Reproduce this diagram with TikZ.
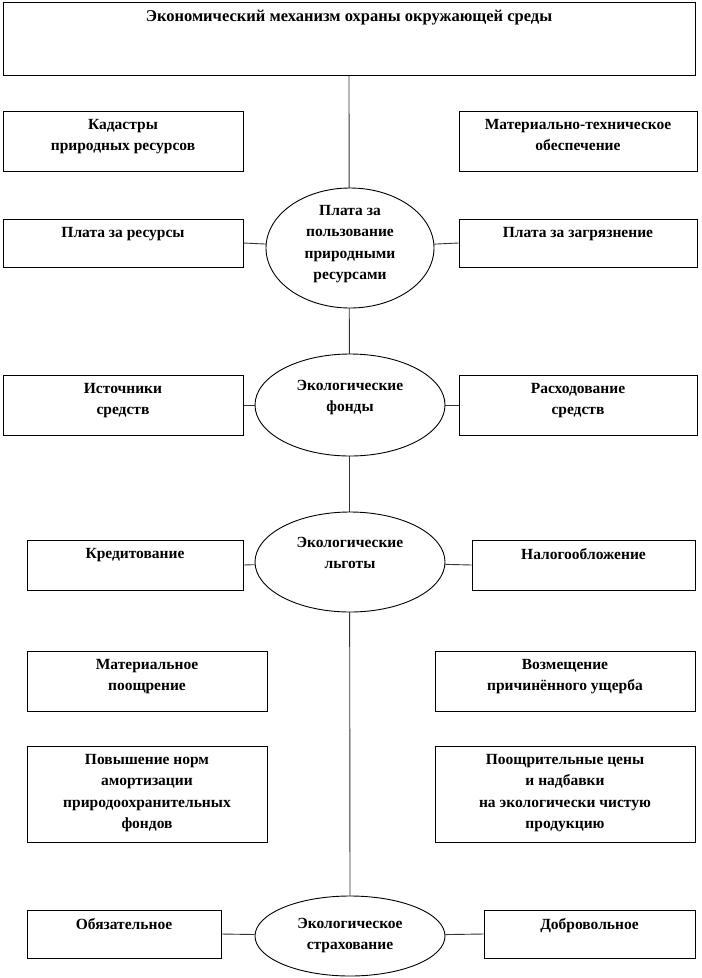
\documentclass[tikz,border=0pt]{standalone}
\usepackage{fontspec}
\setmainfont{Liberation Serif}
\usetikzlibrary{shapes.geometric,backgrounds}
\begin{document}
\begin{tikzpicture}[x=1pt,y=-1pt,
  bx/.style={draw,fill=white,line width=0.9pt,inner sep=0pt},
  el/.style={draw,fill=white,ellipse,line width=0.9pt,inner sep=0pt},
  tx/.style={anchor=north,align=center,font=\fontsize{15.5}{21.5}\selectfont\bfseries,inner sep=0pt},
  ln/.style={line width=0.9pt,draw=black!80}]
\useasboundingbox (0,0) rectangle (702,978);
\def\B#1#2#3#4#5#6{\node[bx,minimum width=#4-#2,minimum height=#5-#3] (#1) at ({(#2+#4)/2},{(#3+#5)/2}) {};
  \node[tx] (#1t) at ({(#2+#4)/2},#3+8) {#6};}
\B{title}{3}{2}{695}{75}{\fontsize{16.5}{20}\selectfont Экономический механизм охраны окружающей среды}
\B{kad}{3}{111}{243}{171}{Кадастры\\природных ресурсов}
\B{mat}{459}{111}{697}{171}{Материально-техническое\\обеспечение}
\B{pr}{3}{219}{243}{267}{Плата за ресурсы}
\B{pz}{459}{219}{697}{267}{Плата за загрязнение}
\B{ist}{3}{375}{243}{435}{Источники\\средств}
\B{ras}{459}{375}{697}{435}{Расходование\\средств}
\B{kr}{27}{540}{243}{590}{Кредитование}
\B{nal}{472}{540}{695}{590}{Налогообложение}
\B{mp}{27}{651}{267}{711}{Материальное\\поощрение}
\B{voz}{435}{651}{695}{711}{Возмещение\\причинённого ущерба}
\B{pov}{27}{746}{267}{842}{Повышение норм\\амортизации\\природоохранительных\\фондов}
\B{poo}{435}{746}{695}{842}{Поощрительные цены\\и надбавки\\на экологически чистую\\продукцию}
\B{obz}{27}{910}{221}{958}{Обязательное}
\B{dob}{484}{910}{695}{958}{Добровольное}
\node[el,minimum width=168,minimum height=120] (e1) at (350,248) {};
\node[tx] at (350,205) {Плата за\\пользование\\природными\\ресурсами};
\node[el,minimum width=190,minimum height=102] (e2) at (350,405) {};
\node[tx] at (350,380) {Экологические\\фонды};
\node[el,minimum width=190,minimum height=100] (e3) at (350,562) {};
\node[tx] at (350,537) {Экологические\\льготы};
\node[el,minimum width=190,minimum height=80] (e4) at (350,936) {};
\node[tx] at (350,918) {Экологическое\\страхование};
\begin{scope}[on background layer]
\draw[ln] (title.south) -- (e4.north);
\draw[ln] (pr.east) -- (e1); \draw[ln] (pz.west) -- (e1);
\draw[ln] (ist.east) -- (e2); \draw[ln] (ras.west) -- (e2);
\draw[ln] (kr.east) -- (e3); \draw[ln] (nal.west) -- (e3);
\draw[ln] (obz.east) -- (e4); \draw[ln] (dob.west) -- (e4);
\end{scope}
\end{tikzpicture}
\end{document}
